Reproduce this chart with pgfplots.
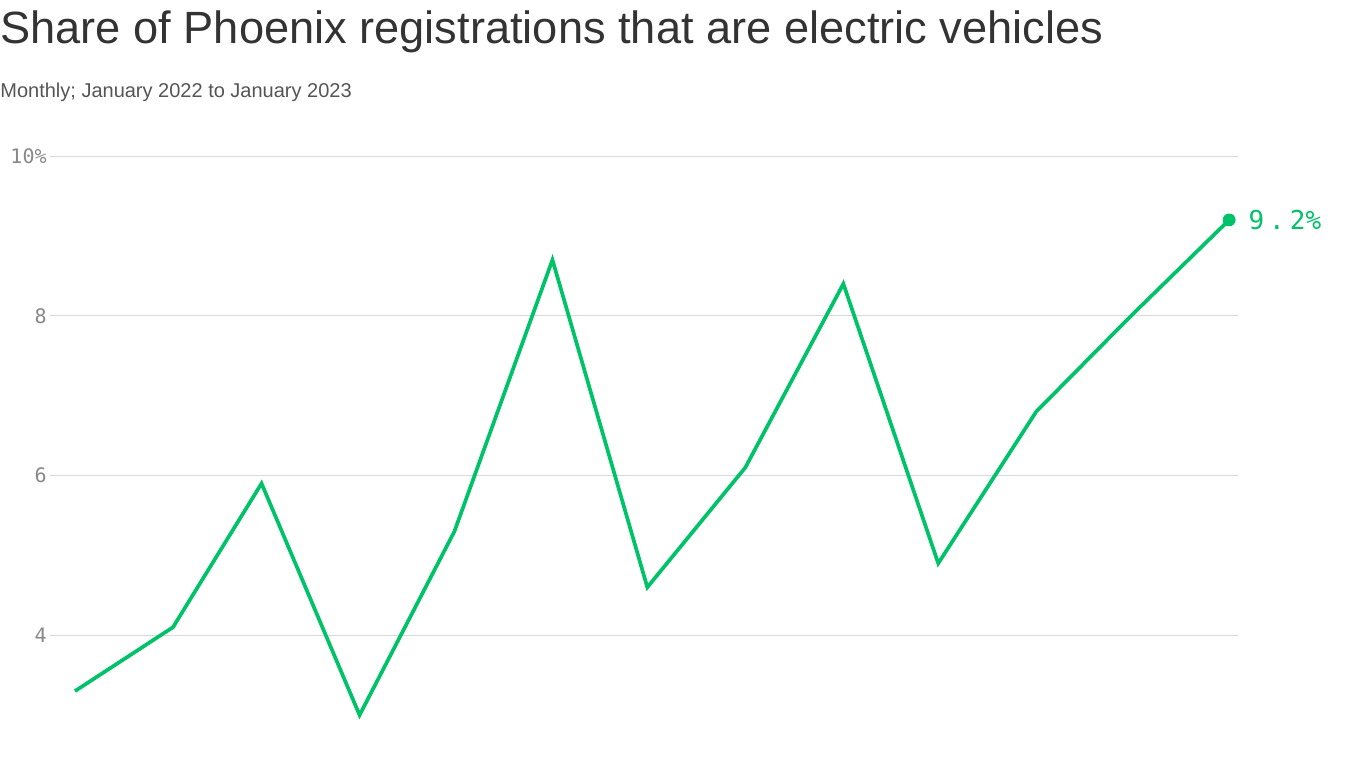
\documentclass[border=0pt]{standalone}
\usepackage{fontspec}
\setmainfont{Liberation Sans}
\setmonofont{DejaVu Sans Mono}
\usepackage{pgfplots}
\pgfplotsset{compat=1.18}
\definecolor{evgreen}{RGB}{0,194,104}
\definecolor{titlegray}{RGB}{51,51,51}
\definecolor{subgray}{RGB}{85,85,85}
\definecolor{tickgray}{RGB}{136,136,136}
\definecolor{gridgray}{RGB}{217,217,217}
\begin{document}
\begin{tikzpicture}
\path[use as bounding box] (0pt,0pt) rectangle (683pt,384pt);
\node[anchor=base west, inner sep=0pt, text=titlegray, font=\fontsize{22.6}{25}\selectfont] at (0pt,362.5pt) {Share of Phoenix registrations that are electric vehicles};
\node[anchor=base west, inner sep=0pt, text=subgray, font=\fontsize{10}{12}\selectfont] at (0pt,335.5pt) {Monthly; January 2022 to January 2023};
\begin{axis}[
  at={(25pt,6.5pt)}, anchor=south west,
  scale only axis, width=594pt, height=299.5pt,
  xmin=-7.9, xmax=367.8, ymin=2.5, ymax=10,
  axis line style={draw=none}, tick style={draw=none},
  xtick=\empty, ytick={4,6,8,10}, yticklabels={4,6,8,10\%},
  ymajorgrids, grid style={gridgray, line width=0.5pt},
  yticklabel style={font=\fontsize{10}{11}\selectfont\ttfamily, text=tickgray, anchor=east, inner sep=0pt, xshift=-1.5pt},
  /pgf/number format/assume math mode=true,
  clip=false,
]
% x = days since 1 January 2022 (first of each month)
\addplot[evgreen, line width=1.85pt] coordinates {
(0,3.3) (31,4.1) (59,5.9) (90,3.0) (120,5.3) (151,8.7) (181,4.6) (212,6.1) (243,8.4) (273,4.9) (304,6.8) (334,8.0) (365,9.2)};
\addplot[only marks, mark=*, mark size=3pt, evgreen] coordinates {(365,9.2)};
\node[anchor=west, inner sep=0pt, text=evgreen, font=\fontsize{13}{14}\selectfont\ttfamily, xshift=9.5pt] at (axis cs:365,9.2) {9\kern2.5pt.\kern2.5pt2\%};
\end{axis}
\end{tikzpicture}
\end{document}
